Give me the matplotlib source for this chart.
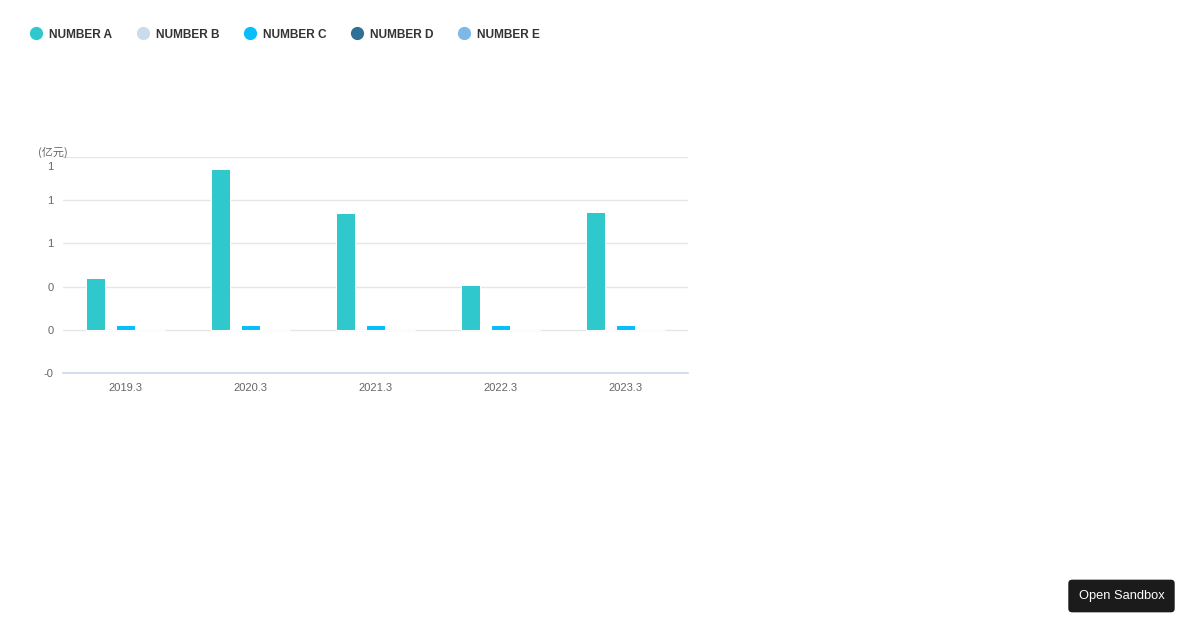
import matplotlib
matplotlib.use("Agg")
import matplotlib.pyplot as plt
import matplotlib.transforms as mtransforms
import numpy as np
from matplotlib.lines import Line2D

plt.rcParams['font.family'] = ['Liberation Sans', 'DejaVu Sans']

categories = ['2019.3', '2020.3', '2021.3', '2022.3', '2023.3']
series_names = ['NUMBER A', 'NUMBER B', 'NUMBER C', 'NUMBER D', 'NUMBER E']
colors = ['#2FC8CC', '#CCDAEE', '#05BEFA', '#2E7096', '#7CB9E8']
number_a = [0.363, 1.117, 0.81, 0.314, 0.816]
number_b = [0.002, 0.002, 0.002, 0.002, 0.002]
number_c = [0.03, 0.03, 0.03, 0.03, 0.03]
number_d = [0.002, 0.002, 0.002, 0.002, 0.002]
number_e = [0.002, 0.002, 0.002, 0.002, 0.002]
yticks = [-0.3, 0, 0.3, 0.6, 0.9, 1.2]
unit_label = '(亿元)'

fig = plt.figure(figsize=(12, 6.3), dpi=100)
ax = fig.add_axes([63 / 1200, 1 - 373 / 630, 625 / 1200, 216 / 630])

x = np.arange(len(categories))
all_series = [number_a, number_b, number_c, number_d, number_e]
step = 0.12
width = 0.152
for i, (vals, col) in enumerate(zip(all_series, colors)):
    ax.bar(x + (i - 2) * step, vals, width=width, color=col,
           edgecolor='white', linewidth=0.75, zorder=3 + i)

ax.set_xlim(-0.5, len(categories) - 0.5)
ax.set_ylim(yticks[0], yticks[-1])
ax.set_xticks(x)
ax.set_xticklabels(categories)
ax.set_yticks(yticks)
ax.set_yticklabels([f"{v:.0f}" if v >= 0 else "-0" for v in yticks])
ax.tick_params(axis='both', length=0, labelsize=8, colors='#666666')
ax.tick_params(axis='x', pad=7.5)
ax.tick_params(axis='y', pad=7)
for s in ax.spines.values():
    s.set_visible(False)
ax.grid(axis='y', color='#e6e6e6', linewidth=1, zorder=0)
ax.axhline(yticks[0], color='#ccd6eb', linewidth=1.2, zorder=2, clip_on=False)

# top label sits a bit lower in the original
top = ax.get_yticklabels()[-1]
top.set_transform(top.get_transform() + mtransforms.ScaledTranslation(0, -9 / 100, fig.dpi_scale_trans))

fig.text(38 / 1200, 1 - 152 / 630, unit_label, fontsize=8, color='#666666',
         family=['Noto Sans CJK SC', 'DejaVu Sans'], va='center', ha='left')

handles = [Line2D([], [], marker='o', linestyle='', markersize=8.5, color=c) for c in colors]
fig.legend(handles, series_names, loc='center left', bbox_to_anchor=(19.5 / 1200, 1 - 34.5 / 630),
           ncol=5, frameon=False, handletextpad=0.6, columnspacing=2.05, handlelength=1.0,
           prop={'size': 8.6, 'weight': 'bold'}, labelcolor='#333333')

fig.text(1121.5 / 1200, 1 - 596 / 630, 'Open Sandbox', fontsize=9.3, color='white',
         ha='center', va='center',
         bbox=dict(boxstyle='round,pad=0.8,rounding_size=0.3', fc='#1b1b1b', ec='none'))

fig.savefig('out.png', dpi=100)
